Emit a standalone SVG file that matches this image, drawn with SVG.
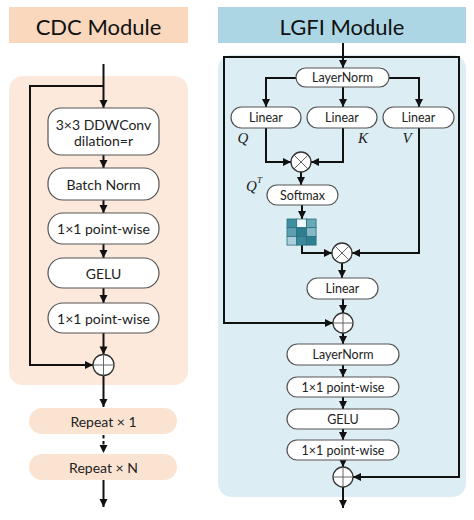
<svg xmlns="http://www.w3.org/2000/svg" width="474" height="520" viewBox="0 0 474 520">
<defs>
<marker id="ah" markerUnits="userSpaceOnUse" markerWidth="10" markerHeight="10" viewBox="0 0 10 10" refX="9" refY="5" orient="auto">
<path d="M1,1 L9,5 L1,9 Z" fill="#111"/>
</marker>
</defs>
<style>
.node{fill:#fff;stroke:#555;stroke-width:1.2}
.rep{fill:#fbe3d2;stroke:none}
.t{font-family:Lato,"Open Sans","Liberation Sans",sans-serif;fill:#222;text-anchor:middle;dominant-baseline:central}
.c13{font-size:14px}
.c12{font-size:12.5px}
.ttl{font-size:22px;fill:#111}
.var{font-family:"Liberation Serif","DejaVu Serif",serif;font-style:italic;font-size:15px;fill:#222;text-anchor:middle;dominant-baseline:central}
.ln{fill:none;stroke:#111;stroke-width:2}
.arr{fill:none;stroke:#111;stroke-width:2;marker-end:url(#ah)}
.op{fill:#fff;stroke:#333;stroke-width:1.3}
.opl{stroke:#666;stroke-width:1}
</style>
<!-- backgrounds -->
<rect x="9" y="7" width="179" height="36" fill="#f9d8be"/>
<text class="t ttl" x="98.5" y="26">CDC Module</text>
<rect x="9" y="76" width="179" height="309" rx="14" fill="#fce9dc"/>
<rect x="218" y="7" width="248" height="36" fill="#acd6e4"/>
<text class="t ttl" x="342" y="26">LGFI Module</text>
<rect x="218" y="55" width="248" height="442" rx="14" fill="#dcedf4"/>

<g id="connectors">
<path class="arr" d="M103.5,64 V108"/>
<path class="arr" d="M103.5,86 H30 V365 H93"/>
<path class="arr" d="M103.5,155 V168"/>
<path class="arr" d="M103.5,200 V213"/>
<path class="arr" d="M103.5,244 V258"/>
<path class="arr" d="M103.5,288 V303"/>
<path class="arr" d="M103.5,333 V354.5"/>
<path class="arr" d="M103.5,375.5 V407"/>
<path class="arr" d="M103.5,435 V453" stroke-dasharray="3.5,2.5"/>
<path class="arr" d="M103.5,480 V507"/>

<path class="arr" d="M343,43 V68"/>
<path class="arr" d="M343,57 H224 V323 H333"/>
<path class="arr" d="M343,57 H459 V477 H353"/>
<path class="arr" d="M296,78 H266 V107"/>
<path class="arr" d="M343,87 V107"/>
<path class="arr" d="M389,78 H419 V107"/>
<path class="arr" d="M266,128 V162 H291"/>
<path class="arr" d="M343,128 V162 H311"/>
<path class="arr" d="M301,172 V185"/>
<path class="arr" d="M302,205 V219"/>
<path class="arr" d="M302,245 V253 H332"/>
<path class="arr" d="M419,128 V253 H352"/>
<path class="arr" d="M342,263 V278"/>
<path class="arr" d="M343,299 V313"/>
<path class="arr" d="M343,333 V344"/>
<path class="arr" d="M343,365 V377"/>
<path class="arr" d="M343,397 V409"/>
<path class="arr" d="M343,429 V440"/>
<path class="arr" d="M343,460 V467"/>
<path class="arr" d="M343,487 V508"/>
</g>

<!-- CDC nodes -->
<g id="cdc-ddwconv">
<rect class="node" x="48" y="108" width="111" height="47" rx="13"/>
<text class="t c13" x="103.5" y="124">3×3 DDWConv</text>
<text class="t c13" x="103.5" y="140">dilation=r</text>
</g>
<g id="cdc-bn"><rect class="node" x="48" y="168" width="111" height="32" rx="15"/><text class="t c13" x="103.5" y="184">Batch Norm</text></g>
<g id="cdc-pw1"><rect class="node" x="48" y="213" width="111" height="31" rx="15"/><text class="t c13" x="103.5" y="228.5">1×1 point-wise</text></g>
<g id="cdc-gelu"><rect class="node" x="48" y="258" width="111" height="30" rx="15"/><text class="t c13" x="103.5" y="273">GELU</text></g>
<g id="cdc-pw2"><rect class="node" x="48" y="303" width="111" height="30" rx="15"/><text class="t c13" x="103.5" y="318">1×1 point-wise</text></g>
<g id="cdc-add">
<circle class="op" cx="103.5" cy="365" r="10.5"/>
<path class="opl" d="M93,365 H114 M103.5,354.5 V375.5"/>
</g>
<g id="cdc-rep1"><rect class="rep" x="29" y="408" width="148" height="26" rx="13"/><text class="t c13" x="103.5" y="421">Repeat × 1</text></g>
<g id="cdc-repN"><rect class="rep" x="29" y="454" width="148" height="26" rx="13"/><text class="t c13" x="103.5" y="467">Repeat × N</text></g>

<!-- LGFI nodes -->
<g id="lgfi-ln1"><rect class="node" x="296" y="68" width="93" height="19" rx="9.5"/><text class="t c12" x="342.5" y="77.5">LayerNorm</text></g>
<g id="lgfi-q"><rect class="node" x="231" y="107" width="70" height="21" rx="10.5"/><text class="t c12" x="266" y="117.5">Linear</text></g>
<g id="lgfi-k"><rect class="node" x="307" y="107" width="70" height="21" rx="10.5"/><text class="t c12" x="342" y="117.5">Linear</text></g>
<g id="lgfi-v"><rect class="node" x="383" y="107" width="71" height="21" rx="10.5"/><text class="t c12" x="418.5" y="117.5">Linear</text></g>
<text class="var" x="243" y="138">Q</text>
<text class="var" x="363" y="138">K</text>
<text class="var" x="407" y="138">V</text>
<g id="lgfi-mul1">
<circle class="op" cx="301" cy="162" r="10"/>
<path class="opl" d="M294,155 L308,169 M308,155 L294,169"/>
</g>
<text class="var" x="254" y="186">Q<tspan font-size="9" dy="-6">T</tspan></text>
<g id="lgfi-softmax"><rect class="node" x="267" y="185" width="71" height="20" rx="10"/><text class="t c12" x="302.5" y="195">Softmax</text></g>
<g id="lgfi-attn" stroke="#2a6f80" stroke-width="0.8">
<rect x="287" y="219" width="9.7" height="8.7" fill="#3f8fa0"/>
<rect x="296.7" y="219" width="9.7" height="8.7" fill="#eef7f9"/>
<rect x="306.4" y="219" width="9.7" height="8.7" fill="#6aa9b8"/>
<rect x="287" y="227.7" width="9.7" height="8.7" fill="#5fa0b0"/>
<rect x="296.7" y="227.7" width="9.7" height="8.7" fill="#2e7e90"/>
<rect x="306.4" y="227.7" width="9.7" height="8.7" fill="#85b9c6"/>
<rect x="287" y="236.4" width="9.7" height="8.7" fill="#a9d0da"/>
<rect x="296.7" y="236.4" width="9.7" height="8.7" fill="#3a8a9c"/>
<rect x="306.4" y="236.4" width="9.7" height="8.7" fill="#2f7f91"/>
</g>
<g id="lgfi-mul2">
<circle class="op" cx="342" cy="253" r="10"/>
<path class="opl" d="M335,246 L349,260 M349,246 L335,260"/>
</g>
<g id="lgfi-linear"><rect class="node" x="307" y="278" width="71" height="21" rx="10.5"/><text class="t c12" x="342.5" y="288.5">Linear</text></g>
<g id="lgfi-add1">
<circle class="op" cx="343" cy="323" r="10"/>
<path class="opl" d="M333,323 H353 M343,313 V333"/>
</g>
<g id="lgfi-ln2"><rect class="node" x="287" y="344" width="112" height="21" rx="10.5"/><text class="t c12" x="343" y="354.5">LayerNorm</text></g>
<g id="lgfi-pw1"><rect class="node" x="287" y="377" width="112" height="20" rx="10"/><text class="t c12" x="343" y="387">1×1 point-wise</text></g>
<g id="lgfi-gelu"><rect class="node" x="287" y="409" width="112" height="20" rx="10"/><text class="t c12" x="343" y="419">GELU</text></g>
<g id="lgfi-pw2"><rect class="node" x="287" y="440" width="112" height="20" rx="10"/><text class="t c12" x="343" y="450">1×1 point-wise</text></g>
<g id="lgfi-add2">
<circle class="op" cx="343" cy="477" r="10"/>
<path class="opl" d="M333,477 H353 M343,467 V487"/>
</g>
</svg>
